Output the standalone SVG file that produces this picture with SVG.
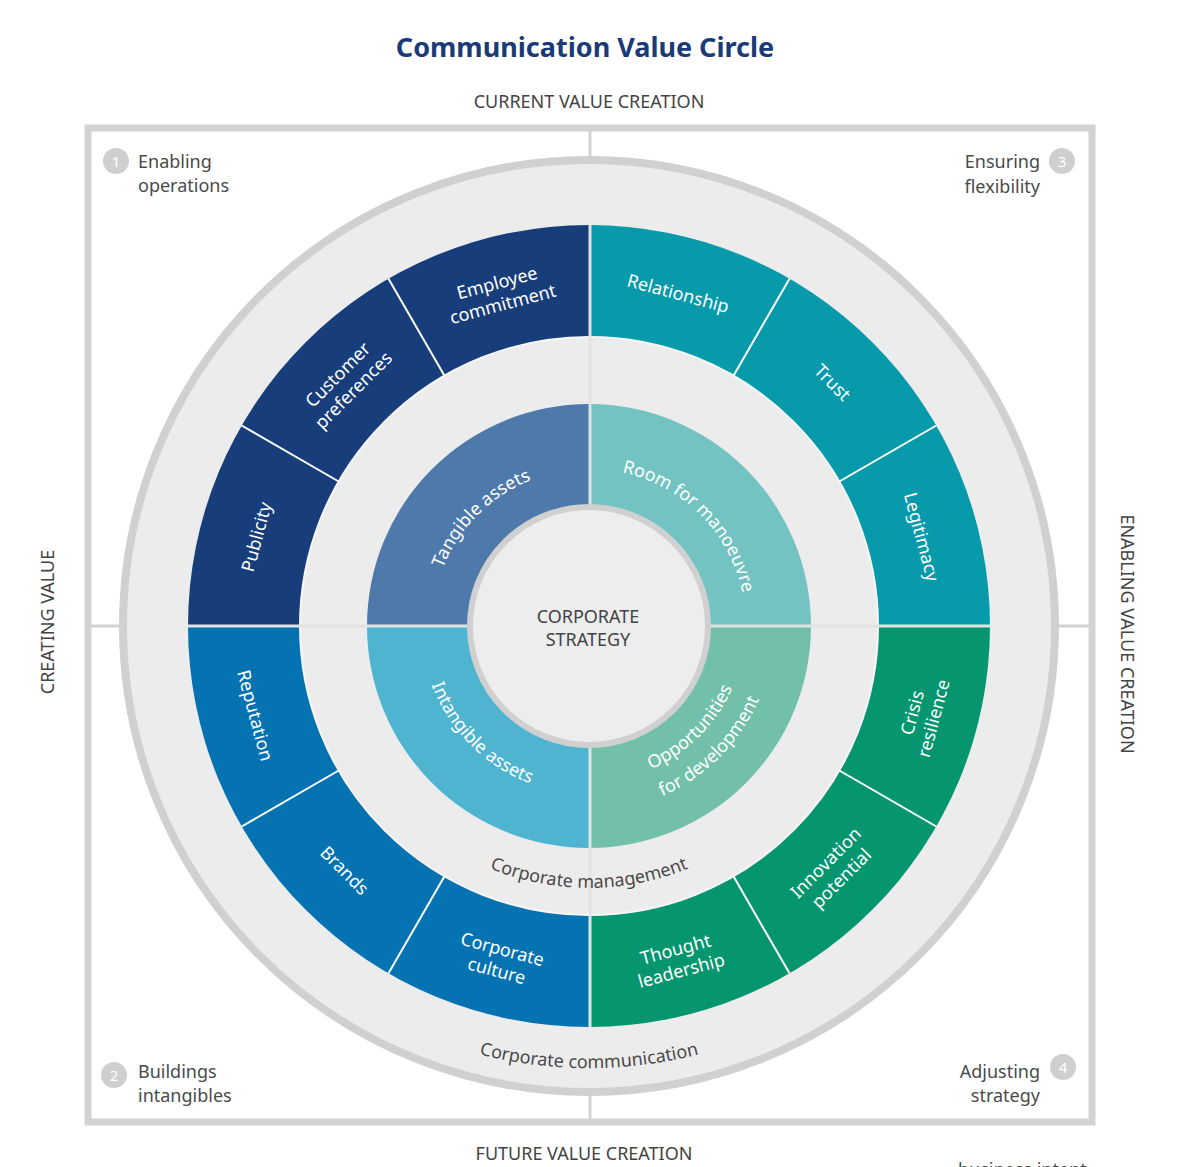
<svg xmlns="http://www.w3.org/2000/svg" xmlns:xlink="http://www.w3.org/1999/xlink" width="1200" height="1167" viewBox="0 0 1200 1167">
<style>
text{font-family:"Noto Sans","Liberation Sans",sans-serif}
.seg{fill:#fff;font-size:18px;text-anchor:middle}
.lab{fill:#4a4a4a;font-size:18px}
.ax{fill:#444;font-size:18px;text-anchor:middle}
.div{stroke:#fff;stroke-width:2}
.num{fill:#fff;font-size:15px;text-anchor:middle}
</style>
<defs>
<path id="pTang" d="M460.4,716.1 A157,157 0 0 1 679.1,497.4"/>
<path id="pRoom" d="M498.9,497.4 A157,157 0 0 1 717.6,716.1"/>
<path id="pIntang" d="M451.4,529.6 A168,168 0 0 0 685.4,763.6"/>
<path id="pOpp1" d="M499.5,753.8 A156,156 0 0 0 716.8,536.5"/>
<path id="pOpp2" d="M482.8,777.6 A185,185 0 0 0 740.5,519.9"/>
<path id="pMgmt" d="M331,671.5 A262,262 0 0 0 847,671.5"/>
<path id="pComm" d="M153.7,702.8 A442,442 0 0 0 1024.3,702.8"/>
</defs>
<rect width="1200" height="1167" fill="#fff"/>
<text x="585" y="57" text-anchor="middle" font-size="27" font-weight="bold" fill="#1a3a78">Communication Value Circle</text>
<text class="ax" x="589" y="108">CURRENT VALUE CREATION</text>
<text class="ax" x="584" y="1160">FUTURE VALUE CREATION</text>
<text class="ax" transform="translate(54,622) rotate(-90)">CREATING VALUE</text>
<text class="ax" transform="translate(1121,634) rotate(90)">ENABLING VALUE CREATION</text>
<text class="lab" x="958" y="1176">business intent</text>
<rect x="88" y="128" width="1004" height="994" fill="#fff" stroke="#d3d3d3" stroke-width="7"/>
<g id="connectors">
<line x1="590" y1="128" x2="590" y2="1122" stroke="#d3d3d3" stroke-width="3"/>
<line x1="88" y1="626" x2="1092" y2="626" stroke="#d3d3d3" stroke-width="3"/>
</g>
<g id="outer-ring">
<circle cx="589" cy="626" r="466" fill="#ececec" stroke="#d0d0d0" stroke-width="8"/>
<path d="M589,626 L188,626 A401,401 0 0 1 589,225 Z" fill="#173e7a"/>
<path d="M589,626 L589,225 A401,401 0 0 1 990,626 Z" fill="#079aab"/>
<path d="M589,626 L990,626 A401,401 0 0 1 589,1027 Z" fill="#06966f"/>
<path d="M589,626 L589,1027 A401,401 0 0 1 188,626 Z" fill="#0572b2"/>
<circle cx="589" cy="626" r="289" fill="#ececec" stroke="#f6f6f6" stroke-width="2"/>
<line class="div" x1="338.7" y1="481.5" x2="241.7" y2="425.5"/>
<line class="div" x1="444.5" y1="375.7" x2="388.5" y2="278.7"/>
<line class="div" x1="733.5" y1="375.7" x2="789.5" y2="278.7"/>
<line class="div" x1="839.3" y1="481.5" x2="936.3" y2="425.5"/>
<line class="div" x1="839.3" y1="770.5" x2="936.3" y2="826.5"/>
<line class="div" x1="733.5" y1="876.3" x2="789.5" y2="973.3"/>
<line class="div" x1="444.5" y1="876.3" x2="388.5" y2="973.3"/>
<line class="div" x1="338.7" y1="770.5" x2="241.7" y2="826.5"/>
</g>
<g id="inner-ring">
<path d="M589,626 L367,626 A222,222 0 0 1 589,404 Z" fill="#4d7aab"/>
<path d="M589,626 L589,404 A222,222 0 0 1 811,626 Z" fill="#72c3c1"/>
<path d="M589,626 L811,626 A222,222 0 0 1 589,848 Z" fill="#72c0a9"/>
<path d="M589,626 L589,848 A222,222 0 0 1 367,626 Z" fill="#4fb4cf"/>
<line x1="590" y1="225" x2="590" y2="1027" stroke="#e2e2e2" stroke-width="3"/>
<line x1="188" y1="626" x2="990" y2="626" stroke="#e2e2e2" stroke-width="3"/>
</g>
<g id="center">
<circle cx="589" cy="626" r="119" fill="#ededed" stroke="#d0d0d0" stroke-width="6"/>
<text class="ax" x="588" y="623">CORPORATE</text>
<text class="ax" x="588" y="646">STRATEGY</text>
</g>
<g id="seg-publicity"><text class="seg" transform="translate(255.8,536.7) rotate(-75)" y="7">Publicity</text></g>
<g id="seg-customer"><text class="seg" transform="translate(345,382) rotate(-45)"><tspan x="0" y="-4">Customer</tspan><tspan x="0" y="18">preferences</tspan></text></g>
<g id="seg-employee"><text class="seg" transform="translate(499.7,292.8) rotate(-15)"><tspan x="0" y="-4">Employee</tspan><tspan x="0" y="18">commitment</tspan></text></g>
<g id="seg-relationship"><text class="seg" transform="translate(678.3,292.8) rotate(15)" y="7">Relationship</text></g>
<g id="seg-trust"><text class="seg" transform="translate(833,382) rotate(45)" y="7">Trust</text></g>
<g id="seg-legitimacy"><text class="seg" transform="translate(922.2,536.7) rotate(75)" y="7">Legitimacy</text></g>
<g id="seg-crisis"><text class="seg" transform="translate(922.2,715.3) rotate(-75)"><tspan x="0" y="-4">Crisis</tspan><tspan x="0" y="18">resilience</tspan></text></g>
<g id="seg-innovation"><text class="seg" transform="translate(833,870) rotate(-45)"><tspan x="0" y="-4">Innovation</tspan><tspan x="0" y="18">potential</tspan></text></g>
<g id="seg-thought"><text class="seg" transform="translate(678.3,959.2) rotate(-15)"><tspan x="0" y="-4">Thought</tspan><tspan x="0" y="18">leadership</tspan></text></g>
<g id="seg-culture"><text class="seg" transform="translate(499.7,959.2) rotate(15)"><tspan x="0" y="-4">Corporate</tspan><tspan x="0" y="18">culture</tspan></text></g>
<g id="seg-brands"><text class="seg" transform="translate(345,870) rotate(45)" y="7">Brands</text></g>
<g id="seg-reputation"><text class="seg" transform="translate(255.8,715.3) rotate(75)" y="7">Reputation</text></g>
<g id="inner-labels">
<text class="seg"><textPath xlink:href="#pTang" href="#pTang" startOffset="50%">Tangible assets</textPath></text>
<text class="seg"><textPath xlink:href="#pRoom" href="#pRoom" startOffset="50%">Room for manoeuvre</textPath></text>
<text class="seg"><textPath xlink:href="#pIntang" href="#pIntang" startOffset="50%">Intangible assets</textPath></text>
<text class="seg"><textPath xlink:href="#pOpp1" href="#pOpp1" startOffset="50%">Opportunities</textPath></text>
<text class="seg"><textPath xlink:href="#pOpp2" href="#pOpp2" startOffset="50%">for development</textPath></text>
<text class="lab" text-anchor="middle"><textPath xlink:href="#pMgmt" href="#pMgmt" startOffset="50%" text-anchor="middle">Corporate management</textPath></text>
<text class="lab" text-anchor="middle"><textPath xlink:href="#pComm" href="#pComm" startOffset="50%" text-anchor="middle">Corporate communication</textPath></text>
</g>
<g id="corner-1"><circle cx="116" cy="161" r="13" fill="#cfcfcf"/><text class="num" x="116" y="167">1</text><text class="lab" x="138" y="168">Enabling</text><text class="lab" x="138" y="192">operations</text></g>
<g id="corner-3"><circle cx="1062" cy="161" r="13" fill="#cfcfcf"/><text class="num" x="1062" y="167">3</text><text class="lab" x="1040" y="168" text-anchor="end">Ensuring</text><text class="lab" x="1040" y="193" text-anchor="end">flexibility</text></g>
<g id="corner-2"><circle cx="114" cy="1075" r="13" fill="#cfcfcf"/><text class="num" x="114" y="1081">2</text><text class="lab" x="138" y="1078">Buildings</text><text class="lab" x="138" y="1102">intangibles</text></g>
<g id="corner-4"><circle cx="1063" cy="1067" r="13" fill="#cfcfcf"/><text class="num" x="1063" y="1073">4</text><text class="lab" x="1040" y="1078" text-anchor="end">Adjusting</text><text class="lab" x="1040" y="1102" text-anchor="end">strategy</text></g>
</svg>
